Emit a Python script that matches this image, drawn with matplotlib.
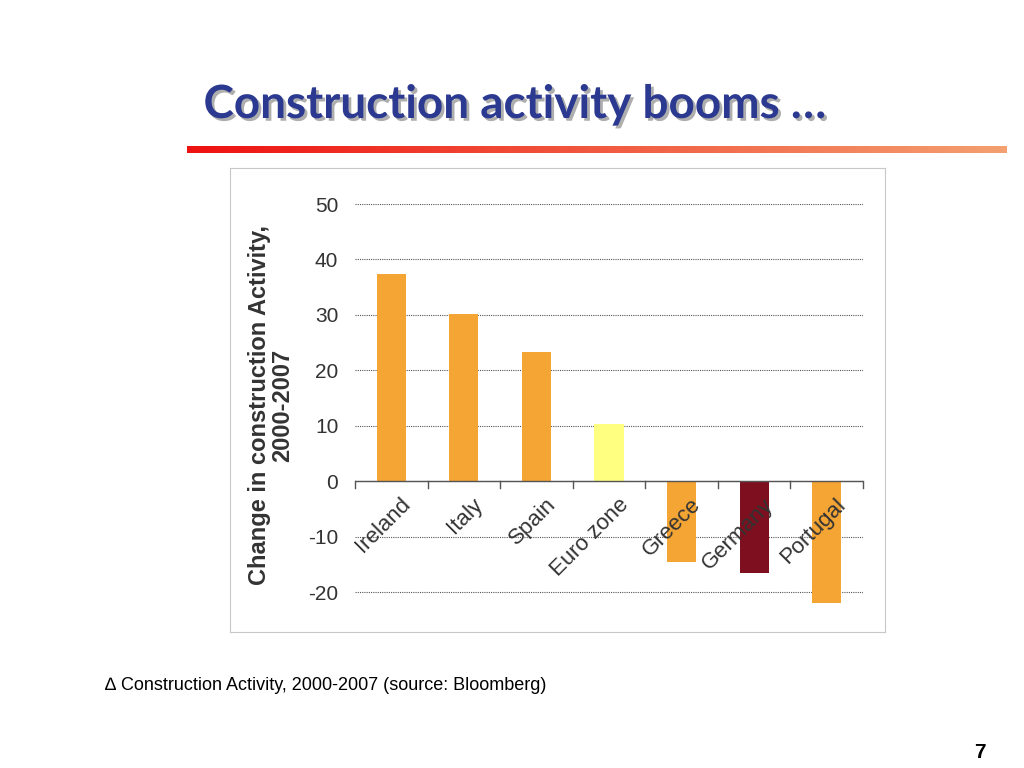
import numpy as np
import matplotlib.pyplot as plt
from matplotlib.colors import LinearSegmentedColormap
import matplotlib.patheffects as pe

countries = ['Ireland', 'Italy', 'Spain', 'Euro zone', 'Greece', 'Germany', 'Portugal']
changes = [37.4, 30.1, 23.3, 10.3, -14.6, -16.6, -22.0]
bar_colors = ['#f4a534', '#f4a534', '#f4a534', '#ffff80', '#f4a534', '#7d0f1e', '#f4a534']
yticks = [-20, -10, 0, 10, 20, 30, 40, 50]

W, H = 1024, 768
fig = plt.figure(figsize=(W / 100, H / 100), dpi=100)
fig.patch.set_facecolor('white')
plt.rcParams['font.family'] = ['Liberation Sans', 'DejaVu Sans']

# title with soft shadow
fig.text(515 / W, 1 - 105 / H, 'Construction activity booms …', ha='center', va='center',
         fontsize=33, fontweight='bold', color='#2b3990', family='Lato',
         path_effects=[pe.withSimplePatchShadow(offset=(2, -2), shadow_rgbFace='#9a9a9a', alpha=0.8)])

# gradient rule under the title
grad = fig.add_axes([187 / W, 1 - 153 / H, 820 / W, 7 / H])
grad.imshow(np.linspace(0, 1, 256).reshape(1, -1), aspect='auto',
            cmap=LinearSegmentedColormap.from_list('r', ['#ee1111', '#f4a070']))
grad.axis('off')

# chart panel (background axes)
panel = fig.add_axes([230 / W, 1 - 632 / H, 655 / W, 464 / H], zorder=0)
panel.set_xticks([])
panel.set_yticks([])
for s in panel.spines.values():
    s.set_color('#c8c8c8')

ax = fig.add_axes([355 / W, 1 - 606 / H, 508 / W, 402 / H], zorder=1)
ax.patch.set_alpha(0)
x = np.arange(len(countries))
ax.bar(x, changes, width=0.4, color=bar_colors, zorder=3)
ax.set_xlim(-0.5, len(countries) - 0.5)
ax.set_ylim(-22.5, 50)
ax.set_yticks(yticks)
ax.set_yticklabels([str(v) for v in yticks], fontsize=15, color='#333333')
ax.yaxis.grid(True, linestyle=(0, (1, 1)), color='#555555', linewidth=0.8, zorder=0)
ax.tick_params(axis='y', length=0, pad=12)
for s in ax.spines.values():
    s.set_visible(False)
ax.axhline(0, color='#555555', linewidth=1, zorder=4)
ax.set_xticks([])
for xv in np.arange(-0.5, len(countries), 1.0):
    ax.plot([xv, xv], [0, -1.2], color='#555555', linewidth=1, zorder=4, clip_on=False)
for xi, name in zip(x, countries):
    ax.text(xi + 0.12, -2.3, name, rotation=45, ha='right', va='top', rotation_mode='anchor',
            fontsize=16, color='#333333', zorder=5)
ax.set_ylabel('Change in construction Activity,\n2000-2007', fontsize=17, fontweight='bold',
              color='#333333', labelpad=10, linespacing=1.0)

fig.text(105 / W, 1 - 686 / H, '∆ Construction Activity, 2000-2007 (source: Bloomberg)',
         fontsize=13, va='center')
fig.text(980 / W, 1 - 752 / H, '7', fontsize=15, fontweight='bold', ha='center', va='center')

fig.savefig('out.png', dpi=100)
